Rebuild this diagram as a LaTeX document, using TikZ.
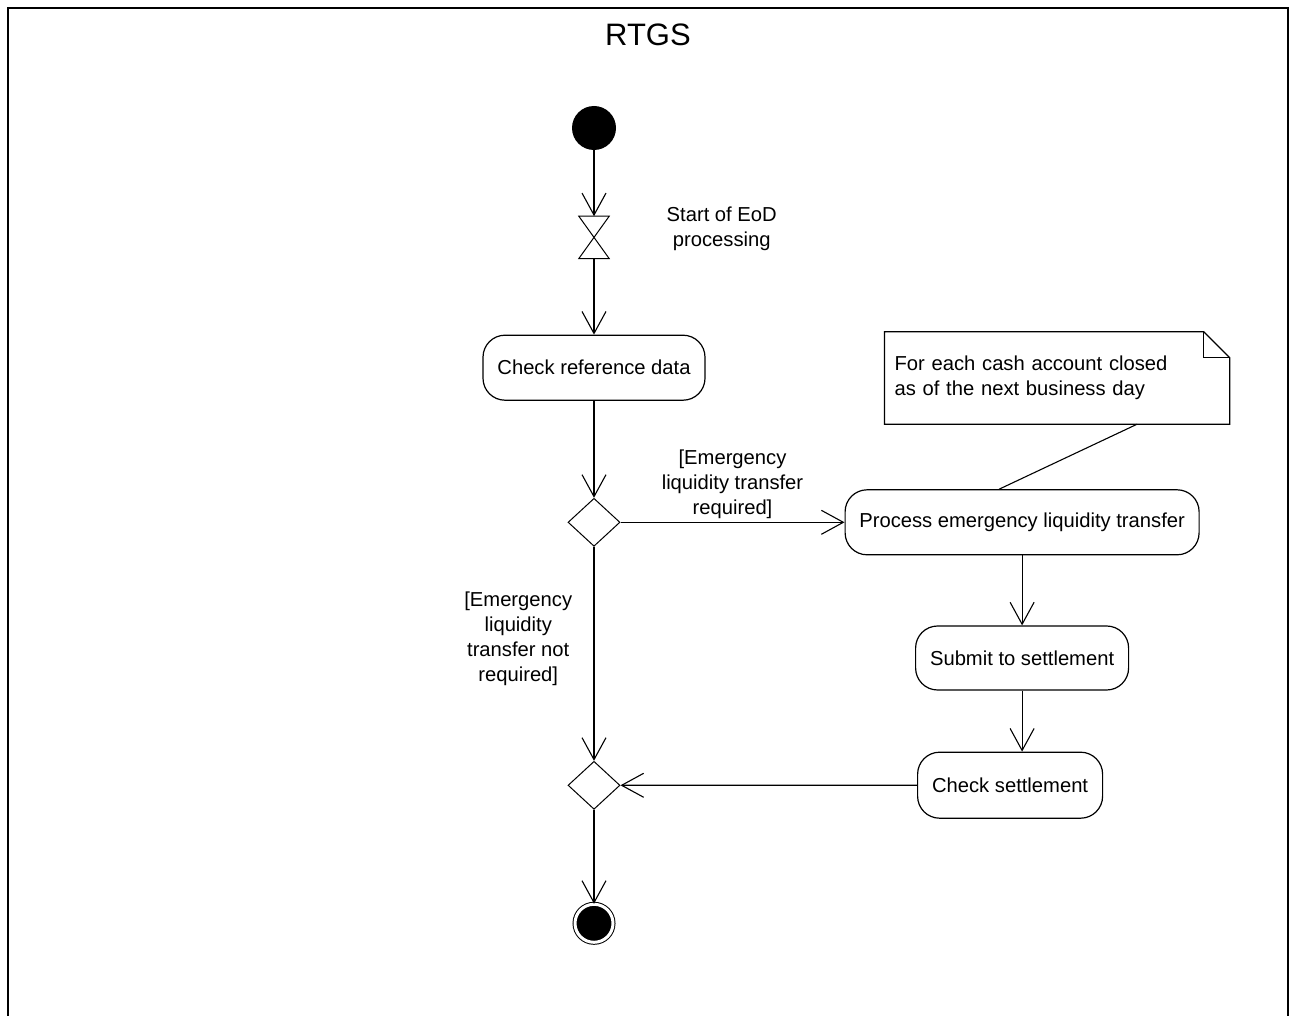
\documentclass[tikz,border=0pt]{standalone}
\usepackage{fontspec}
\setmainfont{Liberation Sans}
\usetikzlibrary{arrows.meta,positioning,shapes.geometric}

\begin{document}
\begin{tikzpicture}[x=1pt,y=1pt,node distance=60pt, every node/.style={font=\fontsize{20.2}{25}\selectfont},
act/.style={draw,rounded corners=22pt,line width=1.2pt,minimum height=65pt,align=center},
dec/.style={draw,diamond,minimum width=52pt,minimum height=48pt,inner sep=0pt,line width=1pt},
note/.style={minimum height=92pt,text width=325pt,inner xsep=10pt,align=left},
flow/.style={-{Straight Barb[length=22pt,width=24pt]},line width=1.1pt}]
\useasboundingbox (0,0) rectangle (1290,-1016);
\draw[line width=1.2pt] (8,-1016) -- (8,-8) -- (1288,-8) -- (1288,-1016);
\node[font=\fontsize{31}{34}\selectfont] (ttl) at (648,-35) {RTGS};
\node[circle,fill=black,minimum size=44pt,inner sep=0pt] (start) at (594,-128) {};
\node[below=66pt of start,minimum width=30pt,minimum height=42pt,inner sep=0pt] (eod) {};
\draw[line width=1pt] (eod.north west) -- (eod.north east) -- (eod.center) -- cycle (eod.south west) -- (eod.south east) -- (eod.center) -- cycle;
\node[right=54pt of eod,yshift=9pt,align=center] (eodlbl) {Start of EoD\\processing};
\node[act,minimum width=222pt,below=76pt of eod] (chk) {Check reference data};
\node[dec,below=97pt of chk] (d1) {};
\node[act,minimum width=354pt,right=224pt of d1] (elt) {Process emergency liquidity transfer};
\node[act,minimum width=213pt,minimum height=64pt,below=70pt of elt] (sub) {Submit to settlement};
\node[act,minimum width=185pt,minimum height=66pt,below=61pt of sub,xshift=-12pt] (cs) {Check settlement};
\node[dec,below=214pt of d1] (d2) {};
\node[circle,draw,fill=black,double=white,double distance=3pt,line width=1pt,minimum size=38pt,inner sep=0pt,below=94pt of d2] (fin) {};
\node[note,above=65pt of elt,xshift=35pt] (nt) {For each cash account closed\\as of the next business day};
\draw[line width=1.2pt] (nt.north west) -- ([xshift=-26pt]nt.north east) -- ([yshift=-26pt]nt.north east) -- (nt.south east) -- (nt.south west) -- cycle;
\draw[line width=1.2pt] ([xshift=-26pt]nt.north east) |- ([yshift=-26pt]nt.north east);
\draw[line width=1.1pt] ([xshift=80pt]nt.south) -- ([xshift=-23pt]elt.north);
\draw[flow] (start) -- (eod);
\draw[flow] (eod) -- (chk);
\draw[flow] (chk) -- (d1);
\draw[flow] (d1) -- node[above,align=center]{[Emergency\\liquidity transfer\\required]} (elt);
\draw[flow] (elt) -- (sub);
\draw[flow] (sub) -- (sub.south |- cs.north);
\draw[flow] (d1) -- node[pos=0.43,left=18pt,align=center]{[Emergency\\liquidity\\transfer not\\required]} (d2);
\draw[flow] (cs) -- (d2);
\draw[flow] (d2) -- (fin);
\end{tikzpicture}
\end{document}
